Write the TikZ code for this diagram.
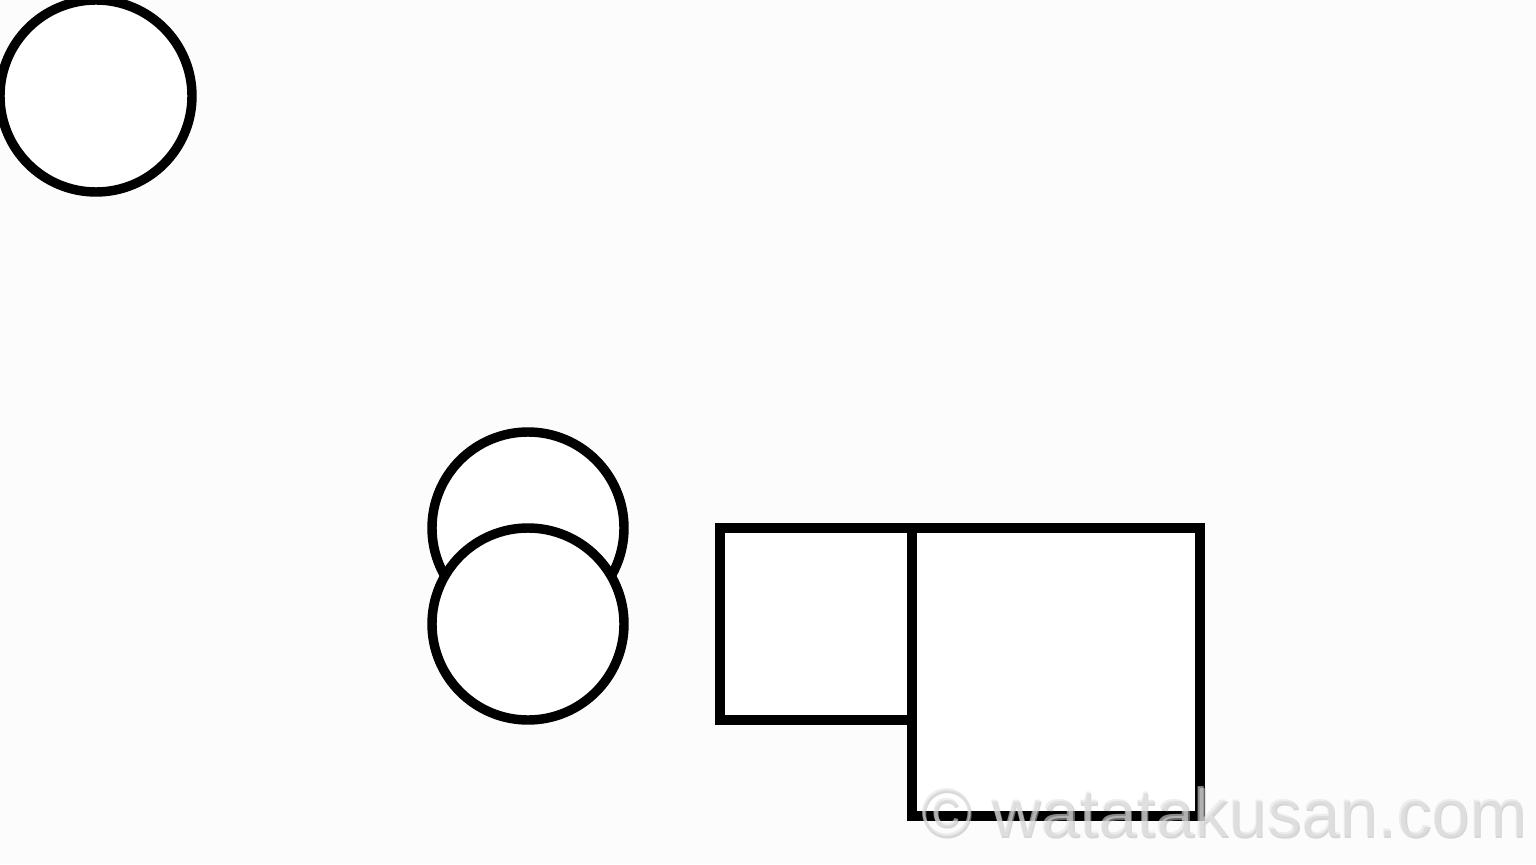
\documentclass[tikz,border=0pt]{standalone}
\usepackage{fontspec}
\setmainfont{Liberation Sans}
\definecolor{bgc}{HTML}{FCFCFC}
\definecolor{wmark}{HTML}{B8B8B8}
\definecolor{wmarkhi}{HTML}{E4E4E4}
\begin{document}
\begin{tikzpicture}[
  outlined/.style={draw=black, fill=white, line width=2.8pt},
  wm/.style={anchor=base west, inner sep=0pt, font=\fontsize{20.4pt}{24pt}\selectfont}
]
\fill[bgc] (0,0) rectangle (16,9);
\useasboundingbox (0,0) rectangle (16,9);
\begin{scope}
\clip (0,0) rectangle (16,9);
\path[outlined] (1,8) circle[radius=1];
\end{scope}
\path[outlined] (5.5,3.5) circle[radius=1];
\path[outlined] (5.5,2.5) circle[radius=1];
\path[outlined] (7.5,1.5) rectangle (9.5,3.5);
\path[outlined] (9.5,0.5) rectangle (12.5,3.5);
\node[wm, text=wmark, opacity=0.55] (wm1) at (9.605,0.27) {© watatakusan.com};
\node[wm, text=wmarkhi, opacity=0.6] (wm2) at (9.59,0.285) {© watatakusan.com};
\end{tikzpicture}
\end{document}
